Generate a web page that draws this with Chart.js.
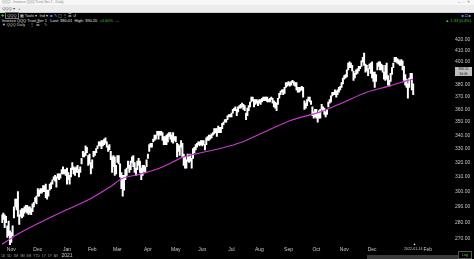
<!DOCTYPE html>
<html>
<head>
<meta charset="utf-8">
<script src="https://cdn.jsdelivr.net/npm/chart.js@4"></script>
<style>
html,body{margin:0;padding:0;background:#000;width:474px;height:259px;overflow:hidden;font-family:"Liberation Sans",Arial,sans-serif;}
.abs{position:absolute;white-space:nowrap;}
#title{left:0;top:0;width:474px;height:5px;background:#f7f7f7;color:#888;font-size:3.5px;line-height:5px;}
#tabs{left:0;top:5px;width:474px;height:7px;background:#ececec;border-bottom:1px solid #cfcfcf;color:#444;font-size:4px;line-height:7px;}
#tools{left:0;top:13px;width:474px;height:5px;color:#ddd;font-size:4px;line-height:5px;}
#info{left:2px;top:18px;color:#e6e6e6;font-size:4px;line-height:5px;}
#study{left:2px;top:23px;color:#cfcfcf;font-size:3.8px;line-height:5px;}
#chg{right:3px;top:18px;color:#2fd12f;font-size:4px;line-height:5px;}
#ricons{right:3px;top:13px;font-size:4px;line-height:5px;color:#fff;}
#pbox{left:455px;top:67px;width:17px;height:9px;background:#bdbdbd;color:#111;font-size:3.4px;line-height:4.5px;text-align:center;}
#bottom{left:0;top:254px;color:#999;font-size:3.4px;line-height:5px;}
#scroll{left:367px;top:255px;width:91px;height:4px;background:#3a3a3a;}
#logbtn{left:458px;top:251px;width:12px;height:6px;border:1px solid #555;color:#3fcf3f;font-size:3.6px;line-height:6px;text-align:center;}
#mark{left:413px;top:243px;color:#fff;font-size:3px;line-height:3px;}
#wrap{position:absolute;left:0;top:24px;width:474px;height:236px;}
</style>
</head>
<body>
<div class="abs" id="title">&nbsp;&nbsp;QQQ - Invesco QQQ Trust Ser 1 - Daily<span style="position:absolute;right:4px;">&#8212;&nbsp;&nbsp;&#9633;&nbsp;&nbsp;&#10005;</span></div>
<div class="abs" id="tabs">&nbsp;&nbsp;QQQ &#9662;&nbsp;&nbsp;&nbsp;+</div>
<div class="abs" id="tools">&nbsp;<span style="color:#2fd12f">&#10010;</span>&nbsp;<span style="border:1px solid #777;padding:0 1px;">QQQ</span>&nbsp;&#9638; Tools &#9662;&nbsp; Ind &#9662;&nbsp; <span style="color:#4a8cff">&#9632;</span> &#9998; &#9634; &#8942; &#9776; &#8634;</div>
<div class="abs" id="info">Invesco QQQ Trust Ser 1&nbsp;&nbsp; Last: 380.01&nbsp; High: 390.20&nbsp; <span style="color:#2fd12f">+0.60%</span>&nbsp; &#8230;</div>
<div class="abs" id="study">&#9660; QQQ Daily&nbsp; &#183; &#8942;&nbsp; &#9776; &#183;&nbsp; &#9998;</div>
<div class="abs" id="ricons"><span style="color:#4a8cff">&#9632;</span> &#9633; <span style="color:#4a8cff">&#9632;</span></div>
<div class="abs" id="chg">&#9650; 1.33 (0.4%)</div>
<div id="wrap"><canvas id="myChart"></canvas></div>
<div class="abs" id="pbox">390.51<br>3d 4h</div>
<div class="abs" id="mark">&#9650;</div>
<div class="abs" id="scroll"></div>
<div class="abs" id="logbtn">Log</div>
<div class="abs" id="bottom">&nbsp;1D&nbsp; 5D&nbsp; 1M&nbsp; 3M&nbsp; 6M&nbsp; YTD&nbsp; 1Y&nbsp; 5Y&nbsp; All</div>
<script>
// trading days shown on the axis (Oct 22 2020 .. Feb 25 2022)
const firstDay = '2020-10-22';
const lastAxisDay = '2022-02-25';
const holidays = ['2020-11-26','2020-12-25','2021-01-01','2021-01-18','2021-02-15','2021-04-02','2021-05-31',
  '2021-07-05','2021-09-06','2021-11-25','2021-12-24','2022-01-17','2022-02-21'];
const monthNames = ['Jan','Feb','Mar','Apr','May','Jun','Jul','Aug','Sep','Oct','Nov','Dec'];
const lastBarDay = '2022-01-14';

// daily ranges, one value per trading day from Oct 22 2020
const lows = [
  280,282,277,280,271,272,266,
  268,272,283,290,288,284,279,284,283,284,286,287,286,285,286,285,287,290,293,292,
  297,297,299,299,300,300,296,295,297,301,302,305,308,307,303,309,308,309,312,312,312,311,
  305,308,305,310,315,312,311,313,313,310,313,319,324,324,325,327,318,319,312,
  316,324,325,327,330,332,332,330,332,333,334,331,328,329,322,313,317,311,312,
  320,319,310,302,297,301,308,311,316,313,315,320,317,313,311,315,318,313,308,311,314,313,317,
  323,328,331,331,335,336,337,340,337,340,340,336,333,333,333,335,339,337,335,334,336,
  335,324,328,325,331,324,318,316,316,321,320,321,316,323,327,329,331,333,332,333,
  332,333,329,333,336,336,337,338,340,341,342,339,342,342,342,345,348,350,350,352,354,354,
  354,357,359,359,355,358,361,361,362,360,359,352,355,359,362,366,367,362,364,365,363,
  365,364,366,367,367,367,366,366,366,368,365,362,361,359,364,369,372,374,372,373,378,379,
  380,379,380,382,380,379,376,374,374,375,376,370,360,361,363,367,366,364,355,353,354,
  353,350,353,353,360,359,356,354,356,362,365,366,371,372,372,370,372,374,376,378,381,
  385,386,387,393,395,395,392,384,386,389,390,392,394,396,400,397,391,392,388,394,390,
  386,383,378,383,393,396,393,393,391,385,384,385,380,379,383,389,395,400,400,399,398,397,
  397,393,384,380,378,369,378,385,376,372
];
const highs = [
  285,286,285,284,278,281,275,
  274,278,290,295,295,300,285,288,289,289,290,291,291,290,290,289,292,293,296,297,
  302,301,302,302,304,304,305,301,301,305,306,308,310,311,310,312,312,312,315,317,315,315,
  316,313,311,316,320,317,316,317,318,315,317,323,328,327,332,331,325,326,320,
  322,328,328,330,332,335,335,336,336,337,338,335,332,333,328,324,325,324,318,
  325,325,319,313,311,311,315,316,321,318,321,324,325,320,316,321,323,321,316,318,318,317,322,
  326,333,334,334,337,340,340,343,343,343,343,342,339,339,340,341,342,342,340,342,339,
  339,334,333,332,336,334,326,324,322,326,324,326,323,330,331,333,334,335,335,336,
  336,336,333,338,339,340,340,341,342,345,345,345,347,346,346,349,350,352,352,355,356,356,
  357,360,361,362,360,362,363,364,365,364,363,357,361,363,366,370,370,368,368,368,367,
  368,368,369,370,370,370,370,368,369,370,369,367,366,365,369,373,375,376,376,378,382,382,
  383,382,383,384,383,382,382,378,378,378,379,378,367,365,368,370,370,367,362,358,360,
  360,357,359,360,364,362,361,358,360,366,368,371,374,374,376,375,376,378,379,382,386,
  388,389,393,399,400,399,397,392,390,393,394,396,396,401,404,408,398,397,394,398,399,
  400,391,391,389,399,400,400,398,397,391,397,399,388,384,390,395,399,404,404,403,402,401,
  402,401,396,389,385,381,386,390,390,381
];

// moving average line read at these dates
const smaDates = ['2020-10-22','2020-11-11','2020-12-15','2021-01-29','2021-02-22','2021-03-05','2021-03-25',
  '2021-04-16','2021-05-11','2021-05-28','2021-06-22','2021-07-13','2021-08-05','2021-09-03','2021-10-06',
  '2021-11-01','2021-11-24','2021-12-21','2022-01-10','2022-01-14'];
const smaValues = [267,274,283.5,295.5,303.5,309,312,316.5,324,327,330.5,334.5,342,351.5,358,366,374,379.5,384,385];

// price axis
const priceTicks = [270,280,290,300,310,320,330,340,350,360,370,380,390,400,410,420];
const priceMin = 266.5;
const priceMax = 428.4;

function fmt(d) {
  return d.getUTCFullYear() + '-' + String(d.getUTCMonth() + 1).padStart(2, '0') + '-' + String(d.getUTCDate()).padStart(2, '0');
}

function tradingDays(from, to) {
  const out = [];
  const d = new Date(from + 'T00:00:00Z');
  const end = new Date(to + 'T00:00:00Z');
  while (d <= end) {
    const wd = d.getUTCDay();
    const s = fmt(d);
    if (wd !== 0 && wd !== 6 && !holidays.includes(s)) out.push(s);
    d.setUTCDate(d.getUTCDate() + 1);
  }
  return out;
}

const days = tradingDays(firstDay, lastAxisDay);
const bars = days.map((d, i) => (i < lows.length ? [lows[i], highs[i]] : null));
const sma = days.map(d => {
  const k = smaDates.indexOf(d);
  return k >= 0 ? smaValues[k] : null;
});

function dateTick(val, i) {
  const d = days[i];
  if (d === lastBarDay) return d;
  if (i === 0) return '';
  const m = d.slice(5, 7);
  if (m === days[i - 1].slice(5, 7)) return '';
  if (d.slice(0, 7) === lastBarDay.slice(0, 7)) return '';
  const name = monthNames[parseInt(m, 10) - 1];
  if (m === '01') return [name, d.slice(0, 4)];
  return name;
}

const ctx = document.getElementById('myChart');
const chart = new Chart(ctx, {
  data: {
    labels: days,
    datasets: [{
      type: 'line',
      data: sma,
      borderColor: '#c63bce',
      borderWidth: 1.2,
      pointRadius: 0,
      spanGaps: true,
      tension: 0.3,
      order: 0
    }, {
      type: 'bar',
      data: bars,
      backgroundColor: '#ffffff',
      borderWidth: 0,
      barPercentage: 1,
      categoryPercentage: 1,
      order: 1
    }]
  },
  options: {
    responsive: true,
    maintainAspectRatio: false,
    animation: false,
    layout: { padding: { top: 4, left: 0, right: 0, bottom: 0 } },
    plugins: { legend: { display: false }, tooltip: { enabled: false } },
    scales: {
      x: {
        type: 'category',
        grid: { display: false, drawTicks: false },
        border: { display: false },
        ticks: {
          autoSkip: false,
          maxRotation: 0,
          padding: 2,
          color: '#c8c8c8',
          font: c => ({ size: days[c.index] === lastBarDay ? 3.6 : 5, family: 'Liberation Sans' }),
          callback: dateTick
        },
        afterFit: s => { s.height = 15; }
      },
      y: {
        type: 'logarithmic',
        position: 'right',
        min: priceMin,
        max: priceMax,
        grid: { display: false, drawTicks: false },
        border: { display: false },
        afterBuildTicks: s => { s.ticks = priceTicks.map(v => ({ value: v })); },
        ticks: {
          padding: 4,
          color: '#c8c8c8',
          font: { size: 5, family: 'Liberation Sans' },
          callback: v => Number(v).toFixed(2)
        },
        afterFit: s => { s.width = 23; }
      }
    }
  }
});
</script>
</body>
</html>
